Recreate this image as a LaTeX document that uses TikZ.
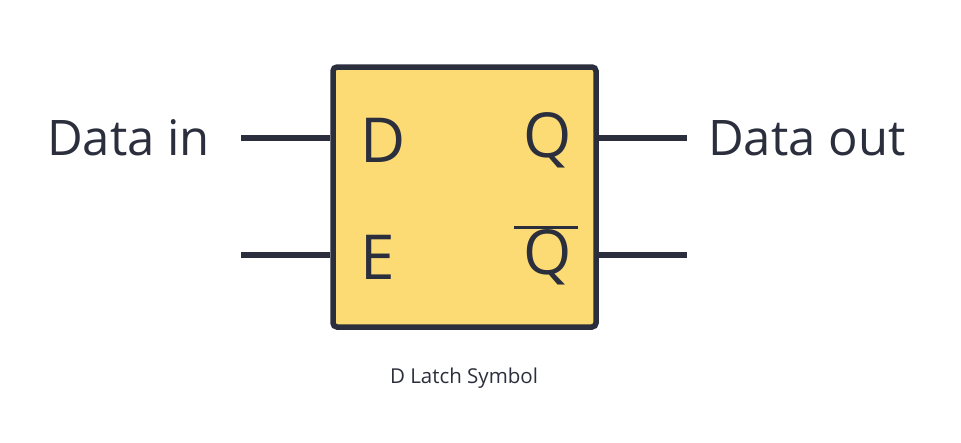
\documentclass[tikz,border=0pt]{standalone}
\usepackage{fontspec}
\setmainfont{Open Sans}
\usetikzlibrary{positioning}
\definecolor{ink}{HTML}{2B2E3D}
\definecolor{latchfill}{HTML}{FCDB74}
\tikzset{wire/.style = {line width = 5.5pt, ink},
         pin/.style = {font = \fontsize{62}{62}\selectfont, text = ink, inner sep = 0},
         label/.style = {font = \fontsize{49}{49}\selectfont, text = ink, inner sep = 0}}

\begin{document}
\begin{tikzpicture}[x = 1pt, y = -1pt]
      \useasboundingbox (0, 0) rectangle (961, 442);
      \node [draw = ink, line width = 5.5pt, fill = latchfill, rounded corners = 4pt,
             minimum width = 263pt, minimum height = 260pt] (latch) at (464.5, 197) {};
      \coordinate (din) at (241, 138);
      \coordinate (en) at (241, 255);
      \coordinate (qout) at (687, 138);
      \coordinate (qnout) at (687, 255);
      \draw [wire] (din) -- (din -| latch.west);
      \draw [wire] (en) -- (en -| latch.west);
      \draw [wire] (qout) -- (qout -| latch.east);
      \draw [wire] (qnout) -- (qnout -| latch.east);
      \node [pin, anchor = west] (d) at (360, 140) {D};
      \node [pin, anchor = west] (e) at (360, 257) {E};
      \node [pin, anchor = east] (q) at (572, 140) {Q};
      \node [pin, anchor = east] (qn) at (572, 257) {Q};
      \draw [line width = 3pt, ink] (514, 227) -- (578, 227);
      \node [label, anchor = east] (datain) at (210, 138) {Data in};
      \node [label, anchor = west] (dataout) at (708, 138) {Data out};
      \node [font = \fontsize{20.5}{20.5}\selectfont, text = ink] (caption) at (464, 378) {D Latch Symbol};
    \end{tikzpicture}
\end{document}
